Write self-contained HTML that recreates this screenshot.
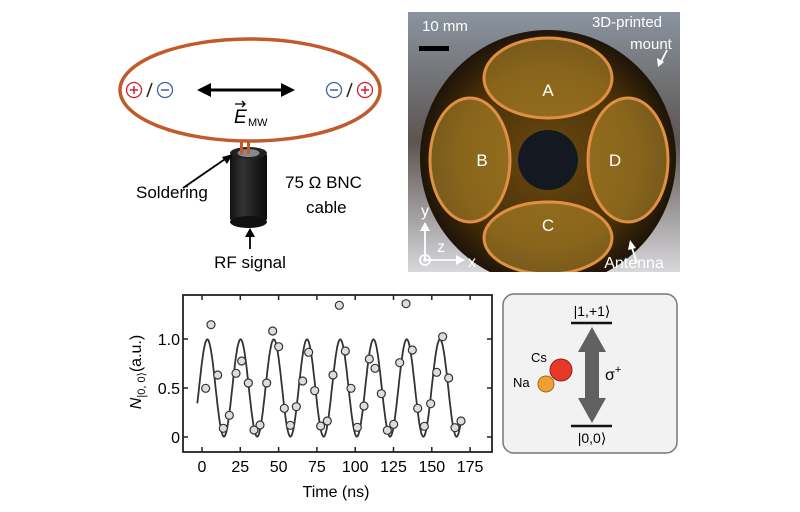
<!DOCTYPE html>
<html><head><style>
body{margin:0;background:#fff;}
svg{display:block;font-family:"Liberation Sans",sans-serif;}
</style></head><body>
<svg width="800" height="512" viewBox="0 0 800 512" xmlns="http://www.w3.org/2000/svg">
<defs>
<radialGradient id="disk" cx="50%" cy="50%" r="50%">
<stop offset="0" stop-color="#6a4a10"/><stop offset="0.7" stop-color="#4a3008"/><stop offset="1" stop-color="#1e1408"/>
</radialGradient>
<linearGradient id="bg" x1="0" y1="0" x2="0" y2="1">
<stop offset="0" stop-color="#8a94a0"/><stop offset="0.5" stop-color="#5c5450"/><stop offset="1" stop-color="#d8d8dc"/>
</linearGradient>
<linearGradient id="cab" x1="0" y1="0" x2="1" y2="0">
<stop offset="0" stop-color="#111"/><stop offset="0.35" stop-color="#333"/><stop offset="1" stop-color="#0a0a0a"/>
</linearGradient>
<clipPath id="ph"><rect x="408" y="12" width="272" height="260"/></clipPath>
</defs>
<!-- top-left antenna -->
<ellipse cx="250" cy="90" rx="130" ry="51" fill="none" stroke="#c25a2c" stroke-width="3.5"/>
<rect x="230" y="152" width="37" height="70" rx="4" fill="url(#cab)"/>
<ellipse cx="248.5" cy="222" rx="18.5" ry="6" fill="#111"/>
<ellipse cx="248.5" cy="153" rx="18.5" ry="6" fill="#222"/>
<ellipse cx="248.5" cy="153" rx="11" ry="4" fill="#888"/>
<rect x="240" y="140" width="3" height="14" fill="#c25a2c"/><rect x="247" y="140" width="3" height="14" fill="#c25a2c"/>
<g fill="none" stroke-width="1.3">
<circle cx="134" cy="90" r="7.5" stroke="#d02030"/><circle cx="165" cy="90" r="7.5" stroke="#4060a0"/>
<circle cx="334" cy="90" r="7.5" stroke="#4060a0"/><circle cx="365" cy="90" r="7.5" stroke="#d02030"/>
</g>
<g stroke-width="1.5">
<path d="M130 90h8M134 86v8" stroke="#d02030"/><path d="M161 90h8" stroke="#4060a0"/>
<path d="M330 90h8" stroke="#4060a0"/><path d="M361 90h8M365 86v8" stroke="#d02030"/>
<path d="M147 97l5-14M347 97l5-14" stroke="#222"/>
</g>
<line x1="208" y1="90" x2="284" y2="90" stroke="#000" stroke-width="3"/>
<polygon points="197,90 211,83 211,97" fill="#000"/><polygon points="295,90 281,83 281,97" fill="#000"/>
<text x="234" y="123" font-size="19" font-style="italic">E</text>
<path d="M235 104h10M242 101l3 3-3 3" stroke="#000" stroke-width="1.3" fill="none"/>
<text x="248" y="126" font-size="11">MW</text>
<line x1="183" y1="188" x2="228" y2="157" stroke="#000" stroke-width="1.8"/>
<polygon points="233,154 222,157 227,164" fill="#000"/>
<text x="136" y="198" font-size="17">Soldering</text>
<text x="285" y="188" font-size="17">75 Ω BNC</text>
<text x="306" y="213" font-size="17">cable</text>
<line x1="250" y1="249" x2="250" y2="235" stroke="#000" stroke-width="1.8"/>
<polygon points="250,228 245,237 255,237" fill="#000"/>
<text x="250" y="268" font-size="17" text-anchor="middle">RF signal</text>
<!-- photo -->
<g clip-path="url(#ph)">
<rect x="408" y="12" width="272" height="260" fill="url(#bg)"/>
<circle cx="548" cy="158" r="128" fill="url(#disk)"/>
<g fill="#c89a30" fill-opacity="0.5" stroke="#e09040" stroke-width="3">
<ellipse cx="548" cy="78" rx="64" ry="40"/>
<ellipse cx="548" cy="238" rx="64" ry="36"/>
<ellipse cx="470" cy="160" rx="40" ry="62"/>
<ellipse cx="628" cy="160" rx="40" ry="62"/>
</g>
<circle cx="548" cy="160" r="30" fill="#141820"/>
</g>
<g fill="#fff" font-size="17" text-anchor="middle">
<text x="548" y="96">A</text><text x="482" y="166">B</text><text x="615" y="166">D</text><text x="548" y="231">C</text>
<text x="445" y="31" font-size="15">10 mm</text>
<text x="627" y="27" font-size="15">3D-printed</text>
<text x="651" y="49" font-size="15">mount</text>
<text x="634" y="268" font-size="16">Antenna</text>
<text x="425" y="216" font-size="16">y</text><text x="441" y="252" font-size="16">z</text><text x="472" y="267" font-size="16">x</text>
</g>
<rect x="419" y="46" width="30" height="5" fill="#000"/>
<g stroke="#fff" stroke-width="1.8" fill="none">
<path d="M667 50l-7 14M631 245l6 18M425 260v-32M425 260h34"/>
<circle cx="425" cy="260" r="5"/>
</g>
<circle cx="425" cy="260" r="1.8" fill="#fff"/>
<polygon points="425,222 420,231 430,231" fill="#fff"/><polygon points="465,260 456,255 456,265" fill="#fff"/>
<polygon points="630,240 628,250 636,248" fill="#fff"/><polygon points="658,67 657,58 664,62" fill="#fff"/>
<!-- plot -->
<rect x="183" y="295" width="309" height="157" fill="none" stroke="#222" stroke-width="1.8"/>
<g stroke="#222" stroke-width="1.5" id="ticks"></g>
<path id="curve" fill="none" stroke="#333" stroke-width="1.8"/>
<g id="pts" fill="#ddd" stroke="#333" stroke-width="1.2"></g>
<g font-size="16" text-anchor="end">
<text x="180" y="345">1.0</text><text x="180" y="394">0.5</text><text x="180" y="443">0</text>
</g>
<g font-size="16" text-anchor="middle" id="xl"></g>
<text x="336" y="497" font-size="16" text-anchor="middle">Time (ns)</text>
<text transform="translate(141,372) rotate(-90)" font-size="16" text-anchor="middle"><tspan font-style="italic">N</tspan><tspan font-size="11" dy="4">|0, 0⟩</tspan><tspan dy="-4">(a.u.)</tspan></text>
<!-- energy box -->
<rect x="503" y="294" width="174" height="159" rx="11" fill="#f2f2f2" stroke="#777" stroke-width="1.5"/>
<line x1="571" y1="323" x2="612" y2="323" stroke="#111" stroke-width="2.5"/>
<line x1="571" y1="426" x2="612" y2="426" stroke="#111" stroke-width="2.5"/>
<text x="592" y="316" font-size="14" text-anchor="middle">|1,+1⟩</text>
<text x="592" y="443" font-size="14" text-anchor="middle">|0,0⟩</text>
<polygon points="592,327 606,352 599,352 599,398 606,398 592,423 578,398 585,398 585,352 578,352" fill="#606060"/>
<text x="605" y="380" font-size="16">σ<tspan font-size="11" dy="-7">+</tspan></text>
<circle cx="546" cy="384" r="8" fill="#f0a030" stroke="#a06a20" stroke-width="1"/>
<circle cx="561" cy="370" r="11" fill="#e83828" stroke="#902020" stroke-width="1"/>
<text x="531" y="362" font-size="13">Cs</text>
<text x="513" y="387" font-size="13">Na</text>
<script>
var ns="http://www.w3.org/2000/svg";
function X(p){return 160+p/3} function Y(p){return 290+p/3}
var d="";for(var x=112;x<=905;x+=2){var y=440-292*(0.5+0.5*Math.cos(2*Math.PI*(x-142)/99.7));d+=(x==112?"M":"L")+X(x).toFixed(1)+" "+Y(y).toFixed(1);}
document.getElementById("curve").setAttribute("d",d);
var P=[[137,295],[153,104],[173,255],[190,415],[208,376],[228,250],[245,213],[265,279],[282,420],[300,405],[320,279],[338,123],[356,170],[373,355],[391,406],[409,350],[428,273],[446,187],[464,302],[482,408],[502,393],[519,255],[538,46],[556,183],[573,295],[592,412],[612,348],[628,207],[645,235],[664,311],[682,421],[701,403],[719,218],[738,41],[757,180],[773,355],[793,409],[812,341],[830,247],[848,140],[866,264],[885,413],[903,393]];
var g=document.getElementById("pts");P.forEach(function(p){var c=document.createElementNS(ns,"circle");c.setAttribute("cx",X(p[0]));c.setAttribute("cy",Y(p[1]));c.setAttribute("r",4);g.appendChild(c);});
var t=document.getElementById("ticks"),xl=document.getElementById("xl"),s="";
for(var i=0;i<8;i++){var xx=202+i*38.3;s+="M"+xx+" 452v-5M"+xx+" 295v5";var tx=document.createElementNS(ns,"text");tx.setAttribute("x",xx);tx.setAttribute("y",472);tx.textContent=i*25;xl.appendChild(tx);}
[339,388,437].forEach(function(y){s+="M183 "+y+"h5M492 "+y+"h-5";});
var pa=document.createElementNS(ns,"path");pa.setAttribute("d",s);t.appendChild(pa);
</script>
</svg>
</body></html>
